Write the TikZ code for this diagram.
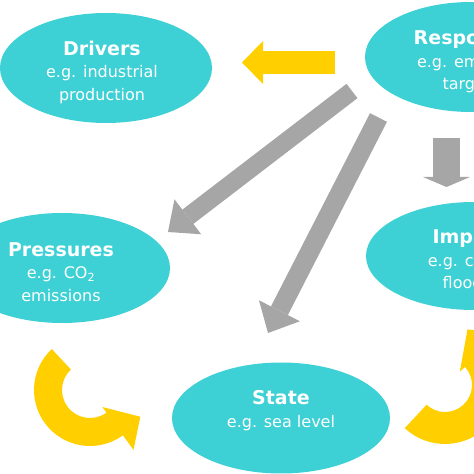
\documentclass[tikz,border=0pt]{standalone}
\usepackage{fontspec}
\setmainfont{DejaVu Sans}
\usetikzlibrary{shapes.geometric,arrows.meta}

\definecolor{dpsiteal}{HTML}{3DD0D5}
\definecolor{dpsisun}{HTML}{FFCF00}
\definecolor{dpsigray}{HTML}{A6A6A6}

\newcommand{\ttl}[1]{{\fontsize{19}{22.5}\selectfont\bfseries #1}}
% curved yellow arrow: centre, start angle, end angle, inner r, outer r, tip r
\newcommand{\bentarrow}[6]{%
  \fill[dpsisun,shift={#1}] ({#2}:{#5}) arc[start angle=#2,end angle=#3,radius=#5]
    -- ({#3}:{#5+18}) -- ({#3+26}:{#6}) -- ({#3}:{#4-7}) -- ({#3}:{#4})
    arc[start angle=#3,end angle=#2,radius=#4] -- cycle;}

\begin{document}
\begin{tikzpicture}[x=1pt,y=1pt,
    bubble/.style={ellipse,fill=dpsiteal,inner sep=0pt,minimum width=214pt,minimum height=110pt},
    blurb/.style={text=white,align=center,inner sep=0pt,font=\fontsize{16}{22.5}\selectfont},
    fatgray/.style={draw=dpsigray,line width=19pt,-{Triangle[width=44pt,length=25pt,line width=0pt]}},
    fatsun/.style={draw=dpsisun,line width=23pt,-{Triangle[width=43pt,length=21pt,line width=0pt]}}]
    \useasboundingbox (0,0) rectangle (474,474);
    \clip (0,0) rectangle (474,474);

    % the five boxes
    \node[bubble,minimum width=212pt] (drivers) at (106,406) {};
    \node[bubble,minimum width=212pt] (responses) at (471,417) {};
    \node[bubble,minimum width=216pt] (pressures) at (62,206) {};
    \node[bubble,minimum width=216pt,minimum height=108pt] (impacts) at (474,218) {};
    \node[bubble,minimum width=218pt,minimum height=111pt] (state) at (281,56) {};

    \node[blurb] (driverstext) at (102,402) {\ttl{Drivers}\\e.g. industrial\\production};
    \node[blurb] (responsestext) at (471,412) {\ttl{Responses}\\e.g. emission\\targets};
    \node[blurb] (pressurestext) at (61,202) {\ttl{Pressures}\\e.g. CO\textsubscript{2}\\emissions};
    \node[blurb] (impactstext) at (475,213) {\ttl{Impacts}\\e.g. coastal\\flooding};
    \node[blurb] (statetext) at (281,63.5) {\ttl{State}\\e.g. sea level};

    % straight arrows
    \coordinate (sunfrom) at (335,411.5);
    \coordinate (sunto) at (242,411.5);
    \draw[fatsun] (sunfrom) -- (sunto);

    \coordinate (grayAfrom) at (352,383);
    \coordinate (grayAto) at (168,242);
    \draw[fatgray,line width=18pt] (grayAfrom) -- (grayAto);

    \coordinate (grayBfrom) at (378.5,356.5);
    \coordinate (grayBto) at (268,141);
    \draw[fatgray,-{Triangle[width=46pt,length=25pt,line width=0pt]}] (grayBfrom) -- (grayBto);

    \coordinate (grayCfrom) at (446.5,336);
    \coordinate (grayCto) at (446.5,287);
    \draw[fatgray,line width=27pt,-{Triangle[width=47pt,length=10pt,line width=0pt]}] (grayCfrom) -- (grayCto);

    % curved arrows
    \bentarrow{(90,84)}{133}{306}{28}{56}{57}
    \bentarrow{(445,89)}{227}{402}{27}{59}{60}
\end{tikzpicture}
\end{document}
